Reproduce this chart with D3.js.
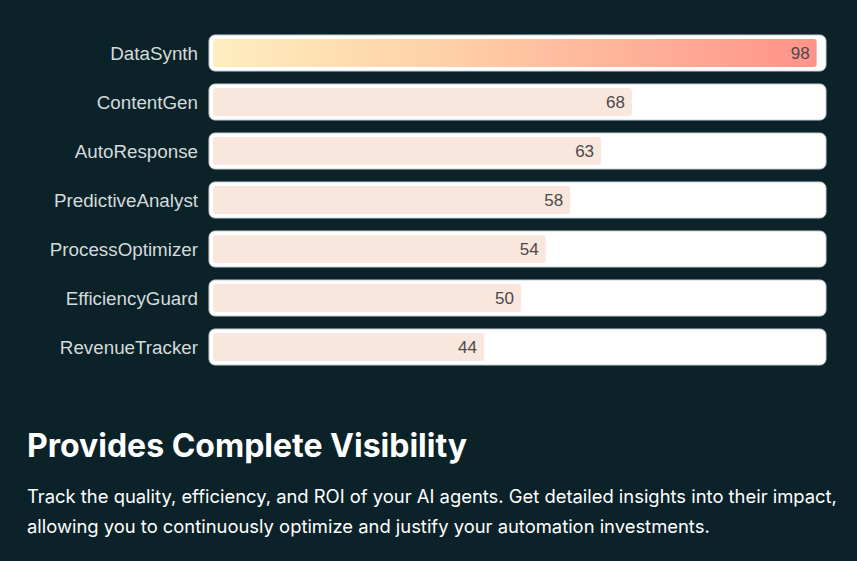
<!DOCTYPE html>
<html>
<head>
    <meta charset="utf-8">
    <title>Agent Scores</title>
    <script src="https://d3js.org/d3.v7.min.js"></script>
    <style>
        body { margin: 0; background: #0b2229; }
    </style>
</head>
<body>
    <script>
        var agents = ["DataSynth", "ContentGen", "AutoResponse", "PredictiveAnalyst", "ProcessOptimizer", "EfficiencyGuard", "RevenueTracker"];
        var scores = [98, 68, 63, 58, 54, 50, 44];
        var title = "Provides Complete Visibility";
        var bodyLines = [
            "Track the quality, efficiency, and ROI of your AI agents. Get detailed insights into their impact,",
            "allowing you to continuously optimize and justify your automation investments."
        ];

        var width = 857, height = 561;
        var trackLeft = 209, trackRight = 826;
        var rowStep = 49, rowGap = 13, topY = 35;

        var svg = d3.select("body").append("svg")
            .attr("width", width)
            .attr("height", height)
            .style("display", "block")
            .style("background-color", "#0b2229");

        var defs = svg.append("defs");
        var grad = defs.append("linearGradient").attr("id", "topGrad");
        grad.append("stop").attr("offset", "0%").attr("stop-color", "#feeebf");
        grad.append("stop").attr("offset", "35%").attr("stop-color", "#ffd3a8");
        grad.append("stop").attr("offset", "100%").attr("stop-color", "#ff938a");

        var y = d3.scaleBand()
            .domain(agents)
            .range([topY, topY + rowStep * agents.length - rowGap])
            .paddingInner(rowGap / rowStep)
            .paddingOuter(0)
            .align(0);

        // bar width from value
        var x = d3.scaleLinear().domain([0, 100]).range([0, 616]);

        var rows = svg.selectAll("g.row")
            .data(agents.map(function (a, i) { return { name: a, value: scores[i], i: i }; }))
            .enter().append("g")
            .attr("class", "row")
            .attr("transform", function (d) { return "translate(0," + y(d.name) + ")"; });

        var bh = y.bandwidth();

        rows.append("rect")
            .attr("x", trackLeft)
            .attr("y", 0)
            .attr("width", trackRight - trackLeft)
            .attr("height", bh)
            .attr("rx", 6)
            .style("fill", "#ffffff")
            .style("stroke", "#c9cfd1")
            .style("stroke-width", 1);

        rows.append("rect")
            .attr("x", trackLeft + 4)
            .attr("y", 4)
            .attr("width", function (d) { return x(d.value); })
            .attr("height", bh - 8)
            .attr("rx", 3)
            .style("fill", function (d) { return d.i === 0 ? "url(#topGrad)" : "#f9e6dc"; });

        rows.append("text")
            .attr("x", trackLeft + 4)
            .attr("dx", function (d) { return x(d.value) - 7; })
            .attr("y", bh / 2)
            .attr("text-anchor", "end")
            .attr("dominant-baseline", "central")
            .style("font-family", "'Liberation Sans', Arial, sans-serif")
            .style("font-size", "17px")
            .style("fill", "#4a4a4a")
            .text(function (d) { return d.value; });

        rows.append("text")
            .attr("x", 198)
            .attr("y", bh / 2)
            .attr("text-anchor", "end")
            .attr("dominant-baseline", "central")
            .style("font-family", "'Liberation Sans', Arial, sans-serif")
            .style("font-size", "18.8px")
            .style("fill", "#d5dadb")
            .text(function (d) { return d.name; });

        svg.append("text")
            .attr("x", 27)
            .attr("y", 457)
            .style("font-family", "Inter, 'Liberation Sans', sans-serif")
            .style("font-weight", "700")
            .style("font-size", "32px")
            .style("fill", "#ffffff")
            .text(title);

        svg.selectAll("text.body")
            .data(bodyLines)
            .enter().append("text")
            .attr("class", "body")
            .attr("x", 27)
            .attr("y", function (d, i) { return 503 + i * 30; })
            .style("font-family", "Inter, 'Liberation Sans', sans-serif")
            .style("font-size", "18.4px")
            .style("fill", "#ffffff")
            .text(function (d) { return d; });
    </script>
</body>
</html>
